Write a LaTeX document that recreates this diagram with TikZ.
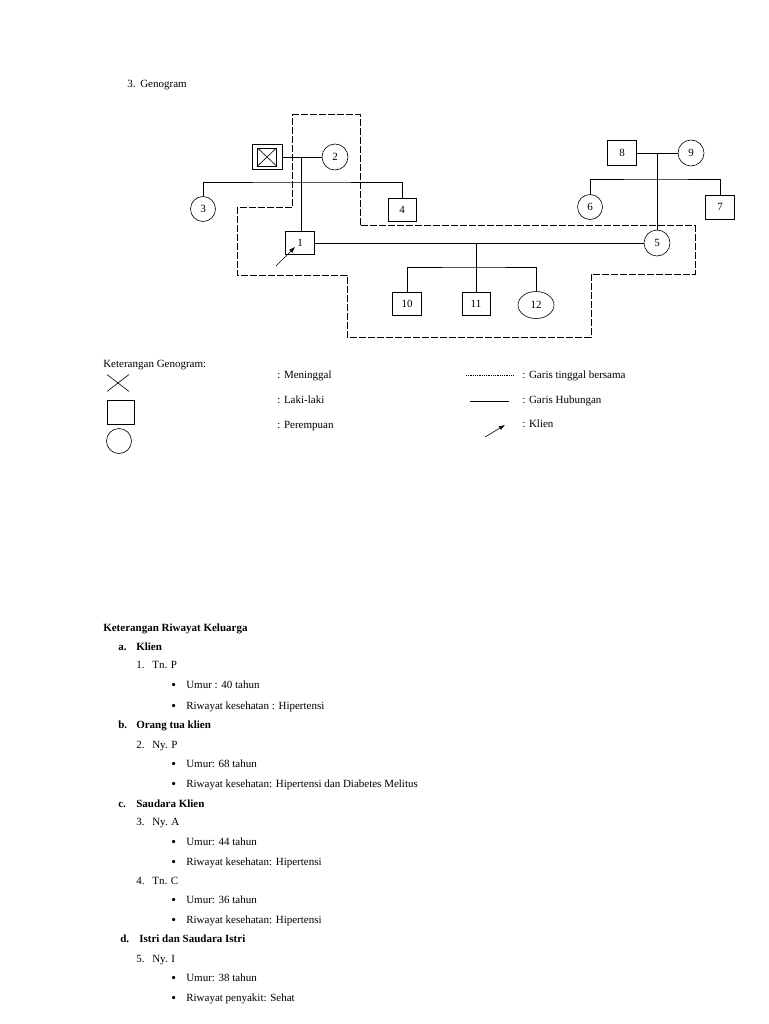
\documentclass[tikz,border=0pt]{standalone}
\usepackage{fontspec}
\setmainfont{Liberation Serif}
\usetikzlibrary{shapes.geometric,arrows.meta}
\tikzstyle{laki}=[rectangle, draw, minimum width=29pt, minimum height=23pt, inner sep=0pt]
\tikzstyle{perempuan}=[circle, draw, minimum size=26pt, inner sep=0pt]
\tikzstyle{silang}=[inner sep=0pt, path picture={\draw (path picture bounding box.north west) -- (path picture bounding box.south east) (path picture bounding box.south west) -- (path picture bounding box.north east);}]
\tikzstyle{teks}=[anchor=west, inner sep=0pt, text height=7.5pt, text depth=2.5pt, yshift=-1.5pt]
\tikzstyle{tinggal}=[dash pattern=on 7pt off 2pt, line width=1pt]
\tikzstyle{klien}=[-{Latex[length=6pt,width=4.5pt]}]
\newcommand{\titik}{\raisebox{-1.3pt}{\fontsize{13.5}{11}\selectfont\textbullet}}

\begin{document}
\begin{tikzpicture}[x=1pt, y=-1pt, line width=0.6pt, font=\fontsize{11}{13}\selectfont]
\useasboundingbox (0,0) rectangle (768,1024);
\draw (127,84) node[teks] {3.};
\draw (140,84) node[teks] {Genogram};

\draw (267,157) node[laki, minimum width=30pt, minimum height=25pt] (ayah) {};
\draw (ayah) node[laki, silang, minimum width=19pt, minimum height=18pt] (ayahx) {};
\draw (335,157) node[perempuan] (n2) {2};
\draw (203,209) node[perempuan, minimum size=25pt] (n3) {3};
\draw (402,210) node[laki, minimum width=28pt] (n4) {4};
\draw (300,243) node[laki] (n1) {1};
\draw (657,243) node[perempuan] (n5) {5};
\draw (590,207) node[perempuan, minimum size=25pt] (n6) {6};
\draw (720,207) node[laki, minimum height=24pt] (n7) {7};
\draw (622,153) node[laki, minimum height=25pt] (n8) {8};
\draw (691,153) node[perempuan] (n9) {9};
\draw (407,304) node[laki] (n10) {10};
\draw (476,304) node[laki, minimum width=28pt] (n11) {11};
\draw (536,305) node[ellipse, draw, minimum width=36pt, minimum height=27pt, inner sep=0pt] (n12) {12};

\coordinate (k12) at (301,157);
\coordinate (a34) at (301,182);
\coordinate (k89) at (657,153);
\coordinate (a67) at (657,179);
\coordinate (k15) at (476,243);
\coordinate (a1012) at (476,267);
\coordinate (panah) at (276,266);

\draw (ayah) -- (n2);
\draw (k12) -- (k12 |- n1.north);
\draw (n3.north) |- (a34) -| (n4.north);
\draw (n8) -- (n9);
\draw (k89) -- (n5.north);
\draw (n6.north) |- (a67) -| (n7.north);
\draw (n1) -- (n5);
\draw (k15) -- (n11.north);
\draw (n10.north) |- (a1012) -| (n12.north);
\draw[klien] (panah) -- ([shift={(-5,4)}]n1.center);

\draw[tinggal] (292,115) -- (360,115) -- (360,226) -- (695,226) -- (695,274) -- (591,274) -- (591,337) -- (347,337) -- (347,275) -- (237,275) -- (237,208) -- (292,208) -- cycle;

\draw (103,363) node[teks] {Keterangan Genogram:};
\draw (118,383) node[silang, minimum width=22pt, minimum height=17pt] (lmeninggal) {};
\draw (120.5,412) node[laki, minimum width=27pt, minimum height=24pt] (llaki) {};
\draw (119,441) node[perempuan, minimum size=25pt] (lperempuan) {};
\draw (277,374) node[teks] {: Meninggal};
\draw (277,399) node[teks] {: Laki-laki};
\draw (277,424) node[teks] {: Perempuan};
\coordinate (tb1) at (466,375);
\coordinate (tb2) at (513,375);
\coordinate (gh1) at (470,401);
\coordinate (gh2) at (509,401);
\coordinate (kl1) at (485,437);
\coordinate (kl2) at (505,425);
\draw[line width=0.5pt, dash pattern=on 0.7pt off 1.1pt] (tb1) -- (tb2);
\draw (gh1) -- (gh2);
\draw[klien] (kl1) -- (kl2);
\draw (522,374) node[teks] {: Garis tinggal bersama};
\draw (522,399) node[teks] {: Garis Hubungan};
\draw (522,423) node[teks] {: Klien};

\draw (103,627) node[teks] {\bfseries Keterangan Riwayat Keluarga};
\draw (118,646) node[teks] {\bfseries a.};
\draw (136,646) node[teks] {\bfseries Klien};
\draw (136,664) node[teks] {1.};
\draw (152,664) node[teks] {Tn. P};
\draw (171,684) node[teks] {\titik};
\draw (186,684) node[teks] {Umur : 40 tahun};
\draw (171,705) node[teks] {\titik};
\draw (186,705) node[teks] {Riwayat kesehatan : Hipertensi};
\draw (118,724) node[teks] {\bfseries b.};
\draw (136,724) node[teks] {\bfseries Orang tua klien};
\draw (136,744) node[teks] {2.};
\draw (152,744) node[teks] {Ny. P};
\draw (171,763) node[teks] {\titik};
\draw (186,763) node[teks] {Umur: 68 tahun};
\draw (171,783) node[teks] {\titik};
\draw (186,783) node[teks] {Riwayat kesehatan: Hipertensi dan Diabetes Melitus};
\draw (118,803) node[teks] {\bfseries c.};
\draw (136,803) node[teks] {\bfseries Saudara Klien};
\draw (136,821) node[teks] {3.};
\draw (152,821) node[teks] {Ny. A};
\draw (171,841) node[teks] {\titik};
\draw (186,841) node[teks] {Umur: 44 tahun};
\draw (171,861) node[teks] {\titik};
\draw (186,861) node[teks] {Riwayat kesehatan: Hipertensi};
\draw (136,880) node[teks] {4.};
\draw (152,880) node[teks] {Tn. C};
\draw (171,899) node[teks] {\titik};
\draw (186,899) node[teks] {Umur: 36 tahun};
\draw (171,919) node[teks] {\titik};
\draw (186,919) node[teks] {Riwayat kesehatan: Hipertensi};
\draw (120,938) node[teks] {\bfseries d.};
\draw (139,938) node[teks] {\bfseries Istri dan Saudara Istri};
\draw (136,958) node[teks] {5.};
\draw (152,958) node[teks] {Ny. I};
\draw (171,977) node[teks] {\titik};
\draw (186,977) node[teks] {Umur: 38 tahun};
\draw (171,997) node[teks] {\titik};
\draw (186,997) node[teks] {Riwayat penyakit: Sehat};
\end{tikzpicture}
\end{document}
